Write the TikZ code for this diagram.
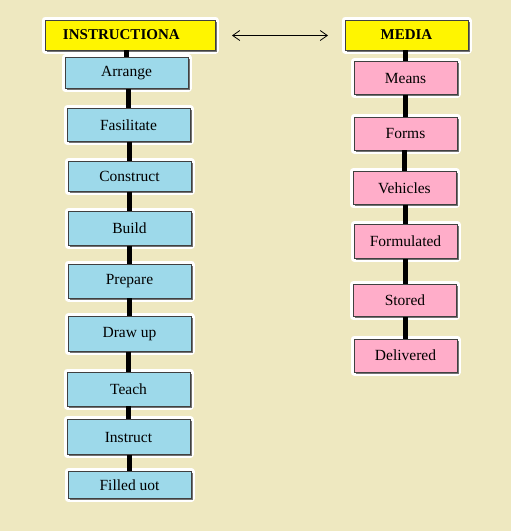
\documentclass[tikz,border=0pt]{standalone}
\usepackage{fontspec}
\setmainfont{Liberation Serif}
\usetikzlibrary{arrows.meta, positioning, calc}
\definecolor{bgcream}{RGB}{238,232,192}
\definecolor{instrblue}{RGB}{157,217,234}
\definecolor{mediapink}{RGB}{255,173,201}
\definecolor{headyellow}{RGB}{255,245,0}
\definecolor{rimgray}{RGB}{64,64,64}
\begin{document}
\begin{tikzpicture}[
		x=1pt, y=-1pt,
		>={Straight Barb[length=2.5mm, width=3.5mm]},
		card/.style={rectangle, draw=rimgray, line width=0.8pt, inner sep=0pt,
			font=\fontsize{15.5}{18}\selectfont,
			preaction={draw=white, line width=7pt, line join=round},
			preaction={fill=black!55, transform canvas={shift={(1.5pt,-1.5pt)}}}},
		headbox/.style={card, fill=headyellow, minimum height=30pt,
			font=\fontsize{15}{18}\selectfont\bfseries},
		instrbox/.style={card, fill=instrblue, minimum width=123pt, minimum height=33pt},
		mediabox/.style={card, fill=mediapink, minimum width=103pt, minimum height=33pt},
		link/.style={draw, line width=5pt}
		]
		
		% --- Background ---
		\fill[bgcream] (0,0) rectangle (511,531);
		\useasboundingbox (0,0) rectangle (511,531);
		
		% --- Instructional Column (Left) ---
		\node[headbox, minimum width=170pt, text width=134pt, align=left] (instr) at (130,35) {INSTRUCTIONA};
		\node[instrbox, minimum height=31pt] (arrange) at (126.5,73) {Arrange};
		\node[instrbox] (fasilitate) at (128.5,125) {Fasilitate};
		\node[instrbox, minimum height=30pt] (construct) at (129.5,176.5) {Construct};
		\node[instrbox, minimum height=34pt] (build) at (129.5,228.5) {Build};
		\node[instrbox, minimum height=34pt] (prepare) at (129.5,281) {Prepare};
		\node[instrbox, minimum height=35pt] (drawup) at (129.5,334) {Draw up};
		\node[instrbox, minimum height=34pt] (teach) at (128.5,389) {Teach};
		\node[instrbox, minimum height=35pt] (instruct) at (128.5,437) {Instruct};
		\node[instrbox, minimum height=27pt] (filledout) at (129.5,485) {Filled uot};
		
		% --- Media Column (Right) ---
		\node[headbox, minimum width=123pt] (media) at (406.5,35) {MEDIA};
		\node[mediabox] (means) at (405.5,78) {Means};
		\node[mediabox] (forms) at (405.5,133.5) {Forms};
		\node[mediabox] (vehicles) at (404.5,188) {Vehicles};
		\node[mediabox, minimum height=34pt] (formulated) at (405.5,241.5) {Formulated};
		\node[mediabox, minimum height=32pt] (stored) at (405,300.5) {Stored};
		\node[mediabox] (delivered) at (405.5,355.5) {Delivered};
		
		% --- Double Arrow Between the Headers ---
		\coordinate (arrowL) at (232,35.5);
		\coordinate (arrowR) at (328,35.5);
		\draw[<->, line width=0.8pt] (arrowL) -- (arrowR);
		
		% --- Left Chain ---
		\draw[link] (arrange.north |- instr.south) -- (arrange.north);
		\draw[link] (fasilitate.north |- arrange.south) -- (fasilitate.north);
		\draw[link] (construct.north |- fasilitate.south) -- (construct.north);
		\draw[link] (build.north |- construct.south) -- (build.north);
		\draw[link] (prepare.north |- build.south) -- (prepare.north);
		\draw[link] (drawup.north |- prepare.south) -- (drawup.north);
		\draw[link] (teach.north |- drawup.south) -- (teach.north);
		\draw[link] (instruct.north |- teach.south) -- (instruct.north);
		\draw[link] (filledout.north |- instruct.south) -- (filledout.north);
		
		% --- Right Chain ---
		\draw[link] (means.north |- media.south) -- (means.north);
		\draw[link] (forms.north |- means.south) -- (forms.north);
		\draw[link] (vehicles.north |- forms.south) -- (vehicles.north);
		\draw[link] (formulated.north |- vehicles.south) -- (formulated.north);
		\draw[link] (stored.north |- formulated.south) -- (stored.north);
		\draw[link] (delivered.north |- stored.south) -- (delivered.north);
		
	\end{tikzpicture}
\end{document}
